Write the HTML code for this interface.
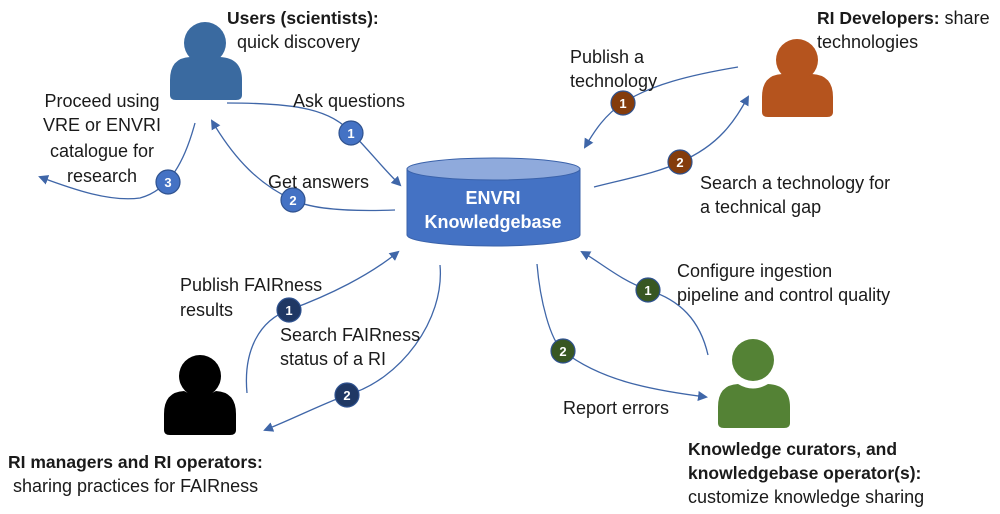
<!DOCTYPE html>
<html><head><meta charset="utf-8"><style>
html,body{margin:0;padding:0;background:#fff;}
svg{display:block;}
text{font-family:"Liberation Sans",sans-serif;font-size:18px;fill:#1a1a1a;}
.b{font-weight:bold;font-size:17.5px;}
.w{fill:#fff;font-weight:bold;}
.n{font-size:13px;font-weight:bold;fill:#fff;text-anchor:middle;}
</style></head><body>
<svg width="1000" height="514" viewBox="0 0 1000 514" xmlns="http://www.w3.org/2000/svg">
<defs>
<marker id="a" markerWidth="10" markerHeight="10" refX="8" refY="5" orient="auto" markerUnits="userSpaceOnUse">
<path d="M0,0 L10,5 L0,10 z" fill="#3f66a8"/></marker>
</defs>
<!-- cylinder -->
<path d="M407,169 L407,235 A86.5,11 0 0 0 580,235 L580,169 Z" fill="#4472c4" stroke="#3a62aa"/>
<ellipse cx="493.5" cy="169" rx="86.5" ry="11" fill="#8faadc" stroke="#3a62aa"/>
<text class="w" x="493" y="204" text-anchor="middle" font-size="18">ENVRI</text>
<text class="w" x="493" y="228" text-anchor="middle" font-size="18">Knowledgebase</text>

<!-- person icons -->
<g fill="#3a6aa0"><circle cx="205" cy="43" r="21"/><path d="M170,95 L170,80 Q170,58 190,57 Q205,66 220,57 Q242,58 242,80 L242,95 Q242,100 236,100 L176,100 Q170,100 170,95Z"/></g>
<g fill="#b5541e"><circle cx="797" cy="60" r="21"/><path d="M762,112 L762,97 Q762,75 782,74 Q797,83 812,74 Q833,75 833,97 L833,112 Q833,117 827,117 L768,117 Q762,117 762,112Z"/></g>
<g fill="#000"><circle cx="200" cy="376" r="21"/><path d="M164,430 L164,414 Q164,392 184,391 Q200,400 216,391 Q236,392 236,414 L236,430 Q236,435 230,435 L170,435 Q164,435 164,430Z"/></g>
<g fill="#548235"><circle cx="753" cy="360" r="21"/><path d="M718,423 L718,407 Q718,385 738,384 Q753,393 768,384 Q790,385 790,407 L790,423 Q790,428 784,428 L724,428 Q718,428 718,423Z"/></g>

<!-- connectors -->
<g fill="none" stroke="#3f66a8" stroke-width="1.3">
<path d="M227,103 C300,103 330,110 352,133 S380,165 400,185" marker-end="url(#a)"/>
<path d="M395,210 C340,212 310,208 293,200 C260,185 235,160 212,121" marker-end="url(#a)"/>
<path d="M195,123 C185,160 170,190 140,198 C110,202 75,190 40,177" marker-end="url(#a)"/>
<path d="M738,67 C690,75 650,85 623,103 C605,115 595,130 585,147" marker-end="url(#a)"/>
<path d="M594,187 C630,178 660,172 680,162 C720,145 735,120 748,97" marker-end="url(#a)"/>
<path d="M247,393 C243,350 260,320 289,310 C330,295 370,275 398,252" marker-end="url(#a)"/>
<path d="M440,265 C445,320 400,380 347,395 C320,405 295,418 265,430" marker-end="url(#a)"/>
<path d="M708,355 C700,320 680,300 648,290 C620,280 600,262 582,252" marker-end="url(#a)"/>
<path d="M537,264 C540,300 550,340 563,351 C600,380 650,390 706,397" marker-end="url(#a)"/>
</g>

<!-- badges -->
<g stroke-width="1.2">
<circle cx="351" cy="133" r="12" fill="#4472c4" stroke="#2f528f"/>
<circle cx="293" cy="200" r="12" fill="#4472c4" stroke="#2f528f"/>
<circle cx="168" cy="182" r="12" fill="#4472c4" stroke="#2f528f"/>
<circle cx="623" cy="103" r="12" fill="#843c0c" stroke="#2f528f"/>
<circle cx="680" cy="162" r="12" fill="#843c0c" stroke="#2f528f"/>
<circle cx="289" cy="310" r="12" fill="#1f3864" stroke="#2f528f"/>
<circle cx="347" cy="395" r="12" fill="#1f3864" stroke="#2f528f"/>
<circle cx="648" cy="290" r="12" fill="#385723" stroke="#2f528f"/>
<circle cx="563" cy="351" r="12" fill="#385723" stroke="#2f528f"/>
</g>
<text class="n" x="351" y="138">1</text>
<text class="n" x="293" y="205">2</text>
<text class="n" x="168" y="187">3</text>
<text class="n" x="623" y="108">1</text>
<text class="n" x="680" y="167">2</text>
<text class="n" x="289" y="315">1</text>
<text class="n" x="347" y="400">2</text>
<text class="n" x="648" y="295">1</text>
<text class="n" x="563" y="356">2</text>

<!-- labels -->
<text class="b" x="227" y="24">Users (scientists):</text>
<text x="237" y="48">quick discovery</text>
<text x="293" y="107">Ask questions</text>
<text x="268" y="188">Get answers</text>
<text x="102" y="107" text-anchor="middle">Proceed using</text>
<text x="102" y="131" text-anchor="middle">VRE or ENVRI</text>
<text x="102" y="157" text-anchor="middle">catalogue for</text>
<text x="102" y="182" text-anchor="middle">research</text>

<text x="817" y="24"><tspan class="b">RI Developers:</tspan> share</text>
<text x="817" y="48">technologies</text>
<text x="570" y="63">Publish a</text>
<text x="570" y="87">technology</text>
<text x="700" y="189">Search a technology for</text>
<text x="700" y="213">a technical gap</text>

<text x="180" y="291">Publish FAIRness</text>
<text x="180" y="316">results</text>
<text x="280" y="341">Search FAIRness</text>
<text x="280" y="365">status of a RI</text>
<text class="b" x="8" y="468">RI managers and RI operators:</text>
<text x="13" y="492">sharing practices for FAIRness</text>

<text x="677" y="277">Configure ingestion</text>
<text x="677" y="301">pipeline and control quality</text>
<text x="563" y="414">Report errors</text>
<text class="b" x="688" y="455">Knowledge curators, and</text>
<text class="b" x="688" y="479">knowledgebase operator(s):</text>
<text x="688" y="503">customize knowledge sharing</text>
</svg>
</body></html>
